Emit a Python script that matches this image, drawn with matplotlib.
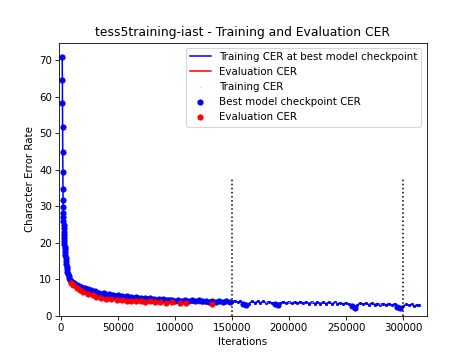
import matplotlib
matplotlib.use("Agg")
import matplotlib.pyplot as plt

model_name = "tess5training-iast"

# best model checkpoints up to ~148k (drawn as line and markers)
ckpt_iter = [1400, 1500, 1600, 1700, 1800, 1900, 2000, 2100, 2200, 2300, 2400, 2500, 2600, 2700,
             2800, 2900, 3000, 3100, 3300, 3500, 3700, 3900, 4100, 4300, 4600, 4900, 5200, 5600,
             6000, 6500, 7000, 7600, 8200, 9000, 10000,
             11000, 12000, 13000, 14000, 15000, 16000, 17000, 18000, 19500, 21000, 22500, 24000,
             25500, 27000, 28500, 30000, 32000, 34000, 36000, 38000, 40000, 42000, 44000, 46000,
             48000, 50000, 52000, 54000, 56000, 58000, 60000, 62000, 64000, 66000, 68000, 70000,
             72000, 74000, 76000, 78000, 80000, 82000, 84000, 86000, 88000, 90000, 92000, 94000,
             96000, 98000, 100000, 103000, 106000, 109000, 112000, 115000, 118000, 121000, 124000,
             127000, 130000, 133000, 136000, 139000, 142000, 145000, 148000]
ckpt_cer = [70.9, 64.5, 58.2, 51.6, 45.0, 39.3, 34.8, 31.8, 29.9, 28.3, 27.2, 26.0, 25.0, 24.0,
            23.0, 22.2, 21.4, 20.6, 19.8, 19.0, 18.2, 17.4, 16.6, 15.8, 15.0, 14.2, 13.5, 12.8,
            12.1, 11.5, 10.9, 10.4, 9.9, 9.5, 9.2,
            9.0, 8.9, 8.6, 8.5, 8.2, 8.3, 7.9, 7.8, 7.6, 7.6, 7.2, 7.3,
            6.9, 7.0, 6.6, 6.7, 6.3, 6.4, 6.0, 6.2, 5.8, 5.9, 5.6, 5.8,
            5.4, 5.6, 5.2, 5.5, 5.1, 5.4, 5.0, 5.3, 4.9, 5.2, 4.8, 5.0,
            4.7, 4.9, 4.6, 4.8, 4.5, 4.7, 4.5, 4.7, 4.4, 4.6, 4.3, 4.5,
            4.3, 4.5, 4.2, 4.4, 4.2, 4.4, 4.1, 4.3, 4.0, 4.3, 4.0,
            4.2, 3.9, 4.2, 3.9, 4.1, 3.9, 4.1, 3.8]

# training CER at later checkpoints (line with small dots)
late_iter = [150000, 152500, 155000, 157500, 160000, 162500, 165000, 167500, 170000, 172500,
             175000, 177500, 180000, 182500, 185000, 187500, 190000, 192500, 195000, 197500,
             200000, 202500, 205000, 207500, 210000, 212500, 215000, 217500, 220000, 222500,
             225000, 227500, 230000, 232500, 235000, 237500, 240000, 242500, 245000, 247500,
             250000, 252500, 255000, 257500, 260000, 262500, 265000, 267500, 270000, 272500,
             275000, 277500, 280000, 282500, 285000, 287500, 290000, 292500, 295000, 297500,
             300000, 302500, 305000, 307500, 310000, 312500, 313700]
late_cer = [3.8, 4.2, 3.7, 4.1, 3.4, 3.0, 3.4, 4.0, 3.6, 4.0,
            3.6, 4.0, 3.6, 3.9, 3.6, 3.2, 3.0, 3.5, 3.9, 3.5,
            3.9, 3.5, 3.8, 3.5, 3.9, 3.5, 3.8, 3.4, 3.8, 3.4,
            3.8, 3.4, 3.7, 3.4, 3.7, 3.3, 3.7, 3.3, 3.6, 3.3,
            3.6, 3.2, 2.6, 2.3, 3.1, 3.5, 3.2, 3.5, 3.1, 3.5,
            3.1, 3.4, 3.1, 3.4, 3.0, 3.4, 3.0, 3.3, 2.5, 2.2,
            2.7, 3.2, 2.9, 3.2, 2.8, 3.1, 2.9]

# later best model checkpoints (markers)
dip_iter = [160000, 162500, 187500, 190000, 255000, 257500, 295000, 297500]
dip_cer = [3.4, 3.0, 3.2, 3.0, 2.6, 2.3, 2.5, 2.2]

# evaluation runs
eval_iter = [8700, 11000, 14000, 17000, 20000, 24000, 28000, 31000, 35000, 40000, 44000,
             49000, 54000, 58000, 62000, 66000, 70000, 73700, 78000, 82500, 87000, 92700,
             98000, 104300, 110000, 133000]
eval_cer = [9.1, 8.4, 7.6, 7.0, 6.6, 6.0, 5.6, 5.3, 5.0, 4.7, 4.6,
            4.4, 4.3, 4.2, 4.1, 4.2, 4.0, 3.9, 4.0, 3.9, 3.8, 3.6,
            3.7, 3.5, 3.6, 3.2]

# training CER at every logged iteration (tiny dots)
train_iter = [20000, 40000, 60000, 80000, 100000, 120000, 140000, 160000, 180000,
              200000, 220000, 240000, 260000, 280000, 300000, 310000]
train_cer = [7.9, 6.1, 5.3, 4.8, 4.5, 4.3, 4.1, 4.0, 3.9, 3.8, 3.7, 3.6, 3.5, 3.4, 3.3, 3.2]

marks = [150000, 300000]

fig, ax = plt.subplots(figsize=(474 / 74, 355 / 74), dpi=74)

ax.plot(ckpt_iter + late_iter, ckpt_cer + late_cer, 'b', label='Training CER at best model checkpoint')
ax.plot(late_iter, late_cer, '.', color='blue', markersize=4)
ax.plot(eval_iter, eval_cer, 'r', label='Evaluation CER')
ax.plot(train_iter, train_cer, '.', color='lightgray', markersize=1, label='Training CER')
ax.plot(ckpt_iter + dip_iter, ckpt_cer + dip_cer, 'o', color='blue', markersize=5,
        label='Best model checkpoint CER')
ax.plot(eval_iter, eval_cer, 'o', color='red', markersize=5, label='Evaluation CER')

for m in marks:
    ax.axvline(m, ymax=0.5, color='k', linestyle=':', linewidth=1.5)

ax.set_xlim(-1200, 320600)
ax.set_ylim(0, 74.8)
ax.set_xlabel('Iterations')
ax.set_ylabel('Character Error Rate')
ax.set_title(model_name + ' - Training and Evaluation CER')
ax.legend(loc='upper right')

fig.savefig('out.png', dpi=74)
